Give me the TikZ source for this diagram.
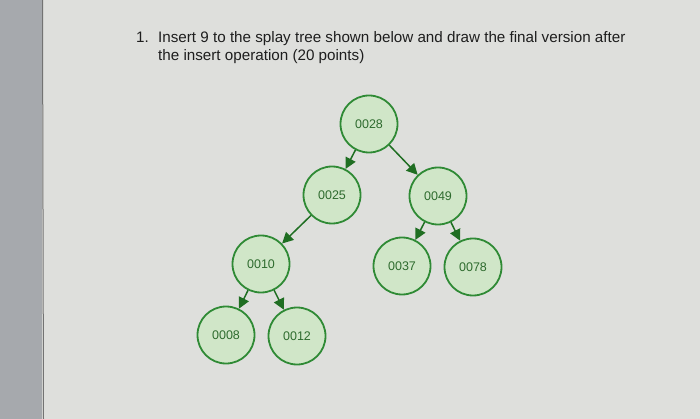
\documentclass[tikz,border=0pt]{standalone}
\usepackage{fontspec}
\setmainfont{Liberation Sans}
\usetikzlibrary{arrows.meta}
\definecolor{bg}{HTML}{DEDFDC}
\definecolor{bezel}{HTML}{A6A9AD}
\definecolor{nodefill}{HTML}{D0E6C8}
\definecolor{nodeline}{HTML}{2F8A35}
\definecolor{nodetext}{HTML}{2E6B2E}
\definecolor{arrowcol}{HTML}{1F6E22}
\definecolor{txt}{HTML}{1E1E1E}
\tikzset{
  treenode/.style={circle, draw=nodeline, line width=1.8pt, fill=nodefill,
    minimum size=57pt, inner sep=0pt, text=nodetext, font=\fontsize{12.5}{14}\selectfont},
  treeedge/.style={draw=arrowcol, line width=1.5pt,
    -{Triangle[length=11pt,width=11pt]}},
  question/.style={anchor=base west, inner sep=0pt, text=txt, font=\fontsize{15.2}{17}\selectfont}
}
\begin{document}
\begin{tikzpicture}[x=1pt,y=-1pt]
\useasboundingbox (0,0) rectangle (700,419);
\fill[bg] (0,0) rectangle (700,419);
\fill[bezel] (0,0) rectangle (42,419);
\draw[black!55, line width=1pt] (42.5,0) -- (43.5,419);

\node[question] (n1) at (136,43) {1.};
\node[question] (l1) at (158,43) {Insert 9 to the splay tree shown below and draw the final version after};
\node[question] (l2) at (158,61) {the insert operation (20 points)};

\node[treenode] (a28) at (369,124) {0028};
\node[treenode] (a25) at (332,195) {0025};
\node[treenode] (a49) at (438,196) {0049};
\node[treenode] (a10) at (261,264) {0010};
\node[treenode] (a37) at (402,266) {0037};
\node[treenode] (a78) at (473,267) {0078};
\node[treenode] (a08) at (226,335) {0008};
\node[treenode] (a12) at (297,336) {0012};

\draw[treeedge] (a28) -- (a25);
\draw[treeedge] (a28) -- (a49);
\draw[treeedge] (a25) -- (a10);
\draw[treeedge] (a49) -- (a37);
\draw[treeedge] (a49) -- (a78);
\draw[treeedge] (a10) -- (a08);
\draw[treeedge] (a10) -- (a12);
\end{tikzpicture}
\end{document}
